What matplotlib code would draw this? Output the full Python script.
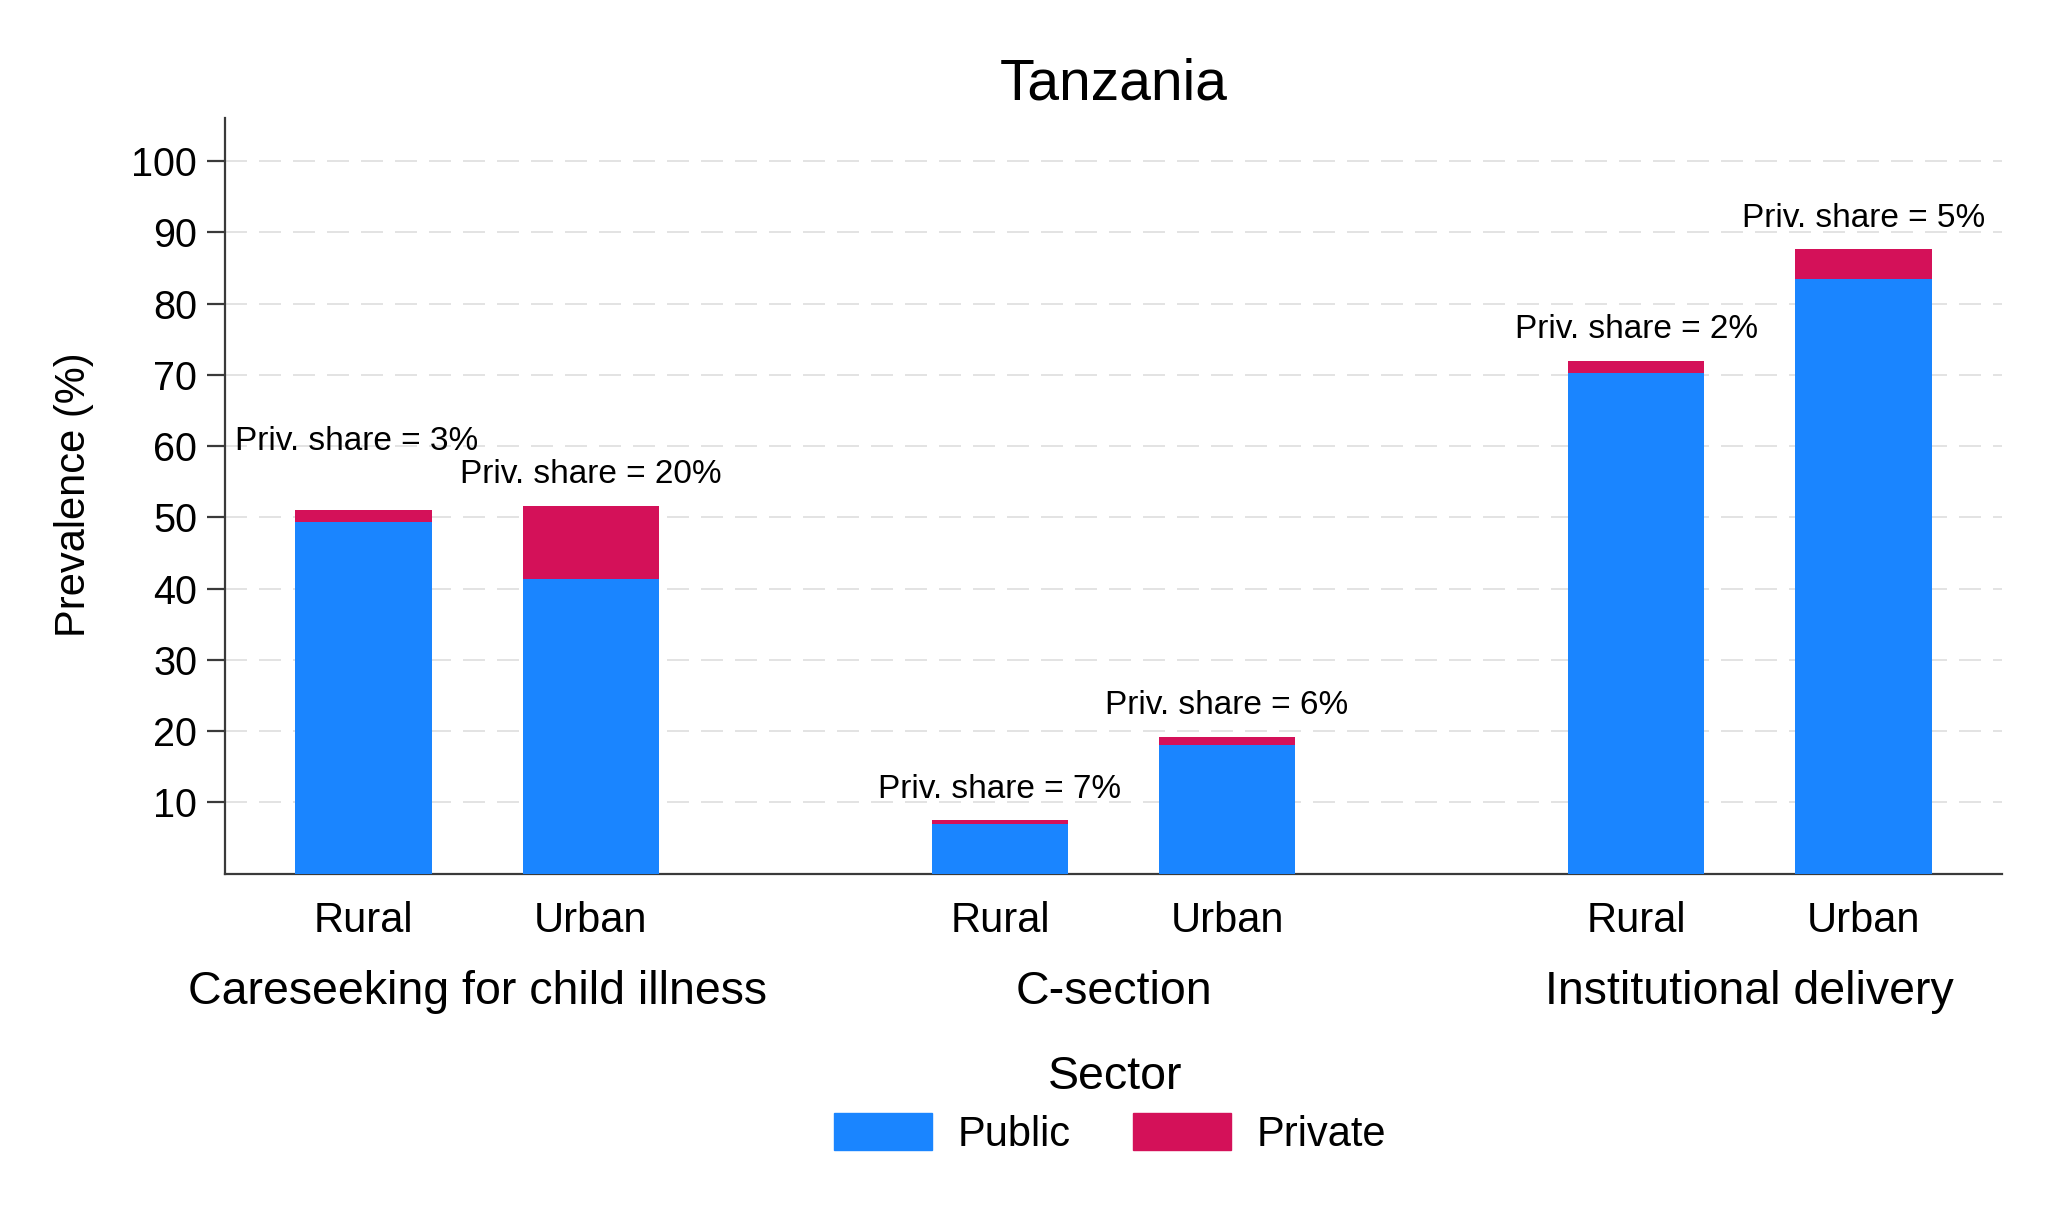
import numpy as np
import matplotlib
matplotlib.use("Agg")
import matplotlib.pyplot as plt
from matplotlib.patches import Patch

plt.rcParams["font.family"] = ["Liberation Sans", "DejaVu Sans"]

# data
groups = ["Careseeking for child illness", "C-section", "Institutional delivery"]
areas = ["Rural", "Urban"]
public = [49.3, 41.4, 7.0, 18.0, 70.2, 83.4]
private = [1.7, 10.2, 0.5, 1.2, 1.8, 4.2]
priv_share = [3, 20, 7, 6, 2, 5]

BLUE = "#1a85ff"
RED = "#d41159"
AXC = "#3a3a3a"

fig = plt.figure(figsize=(20.48, 12.3), dpi=100)
ax = fig.add_axes([225 / 2048, 356.3 / 1230, 1777 / 2048, 755.4 / 1230])

gap = 2.8
x = np.array([g * gap + i for g in range(len(groups)) for i in range(len(areas))])
public = np.array(public)
private = np.array(private)
total = public + private

ax.bar(x, public, width=0.6, color=BLUE, zorder=3)
ax.bar(x, private, bottom=public, width=0.6, color=RED, zorder=3)

# labels above bars (first one lifted to clear its neighbour)
label_nudge = {0: 5.3}
for k in range(len(x)):
    xk = x[k] - (0.03 if k == 0 else 0)
    ax.text(xk, total[k] + 4.35 + label_nudge.get(k, 0), "Priv. share = %d%%" % priv_share[k],
            ha="center", va="center", fontsize=24)

ax.set_xlim(-0.61, x[-1] + 0.61)
ax.set_ylim(0, 106)
ax.set_yticks(range(10, 101, 10))
ax.yaxis.grid(True, color="#e3e3e3", lw=1.44, linestyle=(0, (11, 6)), zorder=0)
ax.set_axisbelow(True)

ax.set_xticks(x)
ax.set_xticklabels(areas * len(groups), fontsize=30)
ax.tick_params(axis="x", length=0, pad=20)
ax.tick_params(axis="y", labelsize=28.5, length=13, width=1.6, color=AXC, pad=7)

for s in ["top", "right"]:
    ax.spines[s].set_visible(False)
for s in ["left", "bottom"]:
    ax.spines[s].set_color(AXC)
    ax.spines[s].set_linewidth(1.6)

for g, name in enumerate(groups):
    ax.text(g * gap + 0.5, -0.157, name, transform=ax.get_xaxis_transform(),
            ha="center", va="center", fontsize=33.5)

fig.text(1113.5 / 2048, 1 - 84 / 1230, "Tanzania", ha="center", va="center", fontsize=41)
fig.text(74.5 / 2048, 1 - 495 / 1230, "Prevalence (%)", rotation=90,
         ha="center", va="center", fontsize=30)

fig.text(1115 / 2048, 1 - 1077 / 1230, "Sector", ha="center", va="center", fontsize=33.5)
handles = [Patch(color=BLUE, label="Public"), Patch(color=RED, label="Private")]
fig.legend(handles=handles, loc="center", bbox_to_anchor=(1110 / 2048, 1 - 1134 / 1230),
           ncol=2, frameon=False, fontsize=30, handlelength=2.35, handleheight=1.0,
           handletextpad=0.62, columnspacing=1.5, borderpad=0)

fig.savefig("out.png", dpi=100)
